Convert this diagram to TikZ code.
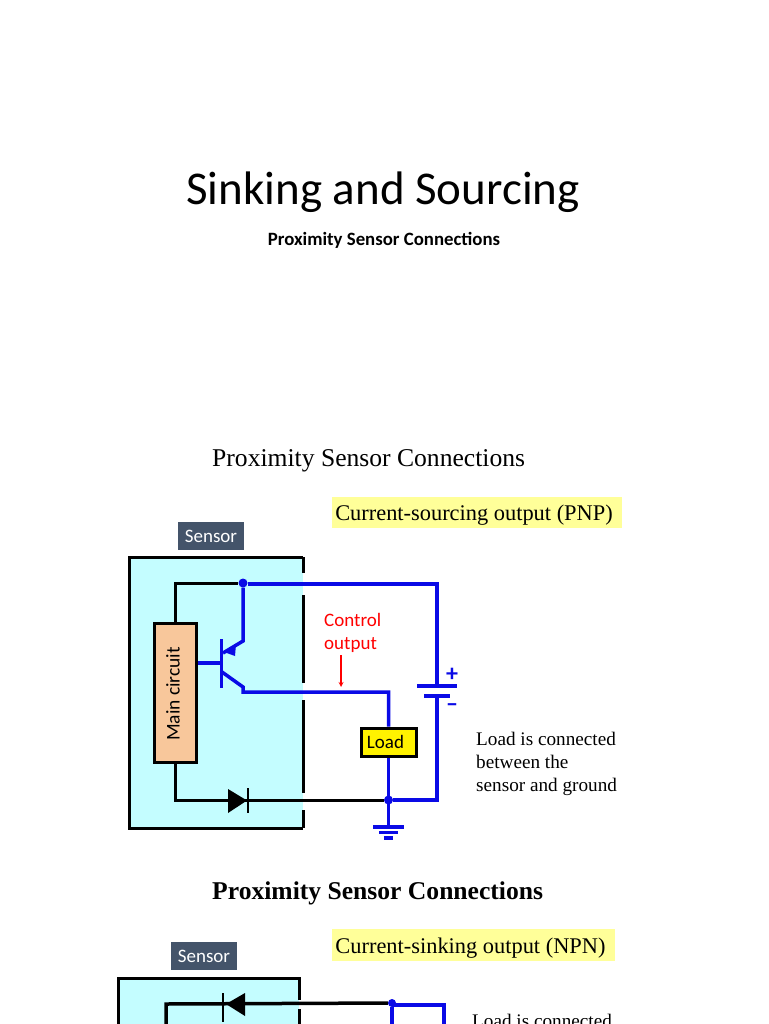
\documentclass[tikz,border=0pt]{standalone}
\usepackage{fontspec}
\setmainfont{Liberation Serif}
\newfontfamily\calibri{Carlito}
\usepackage{tikz}

\definecolor{boxcyan}{HTML}{C4FDFF}
\definecolor{peach}{HTML}{F8C79B}
\definecolor{slate}{HTML}{44546A}
\definecolor{paleyellow}{HTML}{FFFF99}
\definecolor{wireblue}{HTML}{0A0AE6}

\begin{document}
\begin{tikzpicture}[x=1pt, y=-1pt]
    \tikzstyle{heading}=[inner sep=0pt, anchor=west, font=\fontsize{25.6}{28}\selectfont]
    \tikzstyle{outlabel}=[fill=paleyellow, inner sep=0pt, text height=23pt, text depth=8pt, font=\fontsize{22.4}{26}\selectfont]
    \tikzstyle{sensorlabel}=[fill=slate, text=white, inner sep=0pt, font=\calibri\fontsize{19}{20}\selectfont]
    \tikzstyle{note}=[inner sep=0pt, anchor=west, align=left, font=\fontsize{19.2}{23}\selectfont]
    \tikzstyle{wire}=[draw=black, line width=3pt]
    \tikzstyle{bluewire}=[draw=wireblue, line width=3.5pt]
    \tikzstyle{joint}=[circle, fill=wireblue, inner sep=0pt, minimum size=9pt]

    \clip (0, 0) rectangle (768, 1024);
    \fill[white] (0, 0) rectangle (768, 1024);

    % Titles
    \node[inner sep=0pt, font=\calibri\fontsize{47}{50}\selectfont] (title) at (383, 192) {Sinking and Sourcing};
    \node[inner sep=0pt, font=\calibri\bfseries\fontsize{18.8}{20}\selectfont] (subtitle) at (384, 240) {Proximity Sensor Connections};
    \node[heading] (head1) at (212, 461) {Proximity Sensor Connections};
    \node[heading, font=\bfseries\fontsize{25.6}{28}\selectfont] (head2) at (212, 893.5) {Proximity Sensor Connections};

    % Upper sensor
    \fill[boxcyan] (129, 557) rectangle (303, 828);
    \draw[wire, line join=miter] (303, 557) -- (129, 557) -- (129, 828) -- (303, 828);
    \foreach \ya/\yb in {557/573, 595/683, 700/793, 810/828}
        \draw[wire] (303, \ya) -- (303, \yb);
    \node[sensorlabel, minimum width=66pt, minimum height=28pt] (sensor1) at (211, 536) {Sensor};
    \node[outlabel, minimum width=290pt] (source) at (477, 512.5) {Current-sourcing output (PNP)\kern6pt};

    % Main circuit and load
    \node[draw, line width=3pt, fill=peach, minimum width=42pt, minimum height=139pt, inner sep=0pt] (main) at (175.5, 692.5) {};
    \node[rotate=90, inner sep=0pt, font=\calibri\fontsize{19.5}{20}\selectfont] (maintext) at (173, 694) {Main circuit};
    \node[draw, line width=3pt, fill=yellow, minimum width=55pt, minimum height=28pt, inner sep=0pt, font=\calibri\fontsize{19}{20}\selectfont] (load) at (388.5, 742) {Load\kern6pt};

    % Junctions
    \node[joint] (top) at (243, 583) {};
    \node[joint] (bot) at (388.5, 800) {};
    \coordinate (eknee) at (243, 641);
    \coordinate (ebase) at (223, 653);
    \coordinate (cbase) at (222, 672);
    \coordinate (cknee) at (243, 687);
    \coordinate (out) at (243, 692);
    \coordinate (batplus) at (437, 686);
    \coordinate (batminus) at (437, 696);
    \coordinate (gnd) at (388.5, 827);
    \coordinate (tbase) at (221.5, 663);

    % Black wires
    \draw[wire] (main.north -| 175.5, 0) |- (top);
    \draw[wire] (main.south) |- (bot);

    % Diode
    \fill (228, 789) -- (247, 800.5) -- (228, 813) -- cycle;
    \draw[line width=2.5pt] (248, 788) -- (248, 813);

    % Blue wires
    \draw[bluewire] (top) -- (eknee) -- (ebase);
    \draw[bluewire] (main.east |- tbase) -- (tbase);
    \draw[bluewire] (221.5, 639) -- (221.5, 688);
    \draw[bluewire, line join=miter] (cbase) -- (cknee) -- (out) -| (load.north);
    \draw[bluewire] (load.south) -- (gnd);
    \draw[bluewire] (top.east) ++(0, 1) -| (batplus);
    \draw[bluewire] (batminus) |- (bot);
    \fill[wireblue] (224, 652) -- (236, 644) -- (235, 656) -- cycle;

    % Battery
    \draw[bluewire] (417, 686) -- (457, 686);
    \draw[bluewire] (424, 696) -- (450, 696);
    \node[inner sep=0pt, text=wireblue, font=\calibri\bfseries\fontsize{24}{24}\selectfont] (plus) at (452, 675) {+};
    \node[inner sep=0pt, text=wireblue, font=\calibri\bfseries\fontsize{24}{24}\selectfont] (minus) at (452, 708) {–};

    % Ground
    \draw[bluewire] (373, 827) -- (404, 827);
    \draw[bluewire] (379, 832.5) -- (398, 832.5);
    \draw[bluewire] (384, 838) -- (393, 838);

    % Control output
    \node[inner sep=0pt, anchor=west, align=left, text=red, font=\calibri\fontsize{19}{23.5}\selectfont] (control) at (324, 633) {Control\\output};
    \coordinate (ctrl) at (341, 687);
    \draw[red, line width=1.2pt, ->, >=stealth] (341, 655) -- (ctrl);

    \node[note] (note1) at (476, 764) {Load is connected\\between the\\sensor and ground};

    % Lower sensor
    \fill[boxcyan] (118, 978) rectangle (299, 1030);
    \draw[wire, line join=miter] (118, 1030) -- (118, 978) -- (299, 978) -- (299, 1000);
    \draw[wire] (299, 1009) -- (299, 1030);
    \node[sensorlabel, minimum width=66pt, minimum height=28pt] (sensor2) at (204, 956) {Sensor};
    \node[outlabel, minimum width=283pt, text height=24pt] (sink) at (473.5, 945) {Current-sinking output (NPN)\kern6pt};
    \node[joint, minimum size=8pt] (top2) at (392, 1003) {};
    \draw[wire, line width=3.5pt] (top2) -- (166, 1004) -- (166, 1030);
    \fill (245, 993) -- (226, 1004) -- (245, 1016) -- cycle;
    \draw[line width=2.5pt] (223, 993) -- (223, 1022);
    \draw[bluewire] (top2) -- (392, 1030);
    \draw[bluewire] (top2) ++(0, 2) -| (444, 1030);
    \node[note, anchor=north west] (note2) at (472, 1014) {Load is connected};
\end{tikzpicture}
\end{document}
